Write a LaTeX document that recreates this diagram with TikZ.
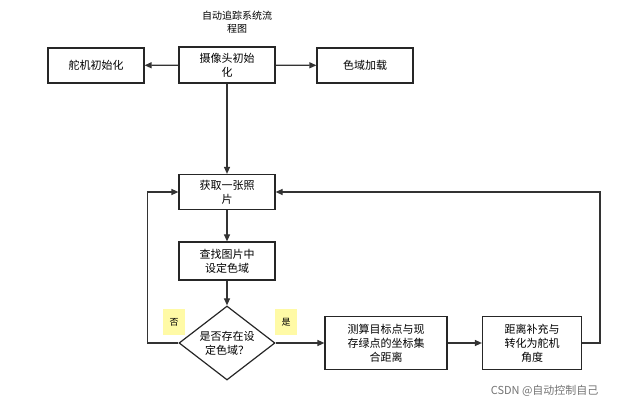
\documentclass[tikz,border=0pt]{standalone}
\usepackage{fontspec}
\setmainfont{Noto Sans CJK SC}
\usetikzlibrary{shapes.geometric,arrows.meta}
\tikzset{
  box/.style={draw=black!85,line width=1.2pt,minimum width=96pt,minimum height=36pt,
    align=center,text width=90pt,font=\fontsize{11}{14}\selectfont,inner sep=1pt},
  line/.style={draw=black!80,line width=1.2pt},
  arr/.style={line,-{Triangle[length=7pt,width=6pt]}},
  note/.style={fill=yellow!35,minimum width=22pt,minimum height=26pt,inner sep=0pt,font=\small}
}
\begin{document}
\begin{tikzpicture}[x=1pt,y=-1pt]
  \useasboundingbox (0,0) rectangle (617,411);
  \node[align=center,font=\fontsize{10}{13}\selectfont] (title) at (237,22) {自动追踪系统流\\程图};
  \node[box] (cam) at (227,65) {摄像头初始\\化};
  \node[box,minimum height=35pt] (servo) at (96,65.5) {舵机初始化};
  \node[box,minimum height=35pt] (color) at (365,65.5) {色域加载};
  \node[box,minimum height=35pt] (photo) at (227,192) {获取一张照\\片};
  \node[box,minimum height=38pt] (find) at (227,261) {查找图片中\\设定色域};
  \node[diamond,draw=black!85,line width=1.2pt,minimum width=96pt,minimum height=74pt,
    inner sep=0pt,aspect=1.3,align=center,font=\fontsize{11}{14}\selectfont] (dec) at (227,343) {是否存在设\\定色域？};
  \node[box,minimum width=122pt,text width=110pt,minimum height=53pt] (calc) at (386,343) {测算目标点与现\\存绿点的坐标集\\合距离};
  \node[box,minimum width=99pt,minimum height=53pt] (comp) at (532,343) {距离补充与\\转化为舵机\\角度};
  \node[note] (no) at (174,322) {否};
  \node[note] (yes) at (286,322) {是};
  \node[text=black!55,font=\fontsize{11}{13}\selectfont,anchor=east] (mark) at (602,391) {CSDN @自动控制自己};
  \draw[arr] (cam) -- (servo);
  \draw[arr] (cam) -- (color);
  \draw[arr] (cam) -- (photo);
  \draw[arr] (photo) -- (find);
  \draw[arr] (find) -- (dec);
  \draw[arr] (dec) -- (calc);
  \draw[arr] (calc) -- (comp);
  \draw[arr] (dec.west) -- ++(-31,0) |- (photo.west);
  \coordinate (rt) at (600,192);
  \draw[arr] (comp.east) -| (rt) -- (photo.east);
\end{tikzpicture}
\end{document}
